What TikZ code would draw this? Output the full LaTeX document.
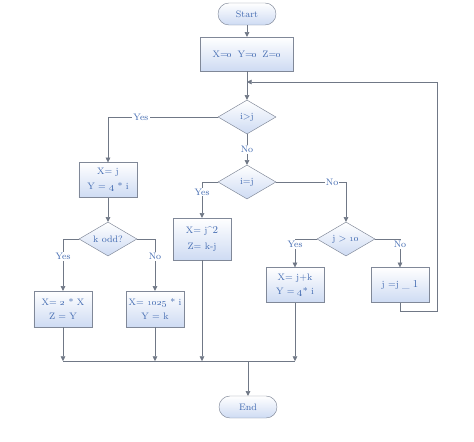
\documentclass[tikz,border=0pt]{standalone}
\usetikzlibrary{shapes.geometric,arrows.meta}
\definecolor{boxblue}{RGB}{206,219,243}
\definecolor{rimgray}{RGB}{128,136,152}
\definecolor{linegray}{RGB}{112,120,134}
\definecolor{txtblue}{RGB}{68,108,178}
\newcommand{\os}[1]{\oldstylenums{#1}}
\begin{document}
\begin{tikzpicture}[x=0.03cm, y=-0.03cm]
\tikzstyle{every node}=[font=\footnotesize, text=txtblue];
\tikzstyle{proc}=[draw=rimgray, top color=white, bottom color=boxblue, minimum width=1.74cm, minimum height=1.05cm, align=center, inner sep=1pt];
\tikzstyle{cond}=[draw=rimgray, diamond, aspect=1.7, top color=white, bottom color=boxblue, minimum width=1.74cm, minimum height=1.02cm, inner sep=0pt];
\tikzstyle{term}=[draw=rimgray, rounded corners=0.33cm, top color=white, bottom color=boxblue, minimum width=1.74cm, minimum height=0.66cm];
\tikzstyle{lbl}=[fill=white, inner sep=1pt];
\tikzstyle{arr}=[draw=linegray, -{Triangle[length=4pt,width=4pt]}];
\tikzstyle{wire}=[draw=linegray];
\useasboundingbox (0,0) rectangle (474,441);
% nodes
\node [term] (start) at (247,14) {Start};
\node [proc, minimum width=2.79cm, minimum height=1.02cm] (init) at (247,54) {X=\os{0}\enspace Y=\os{0}\enspace Z=\os{0}};
\node [cond] (d1) at (247,117) {i>j};
\node [proc] (b1) at (108,180) {X= j\\[3pt] Y = \os{4} * i};
\node [cond] (d3) at (108,239) {k odd?};
\node [proc, minimum height=1.08cm] (b2) at (63,309) {X= \os{2} * X\\[3pt] Z = Y};
\node [proc, minimum height=1.08cm] (b3) at (155,309) {X= \os{1025} * i\\[3pt] Y = k};
\node [cond] (d2) at (247,182) {i=j};
\node [proc, minimum height=1.26cm] (b4) at (202,239) {X= j\textasciicircum{\small 2}\\[4pt] Z= k-j};
\node [cond] (d4) at (346,239) {j > \os{10}};
\node [proc] (b5) at (295,285) {X= j+k\\[3pt] Y = \os{4}* i};
\node [proc] (b6) at (400,285) {j =j \_ {\small 1}};
\node [term] (finish) at (248,407) {End};
\coordinate (loopin) at (247,82);
\coordinate (lp1) at (437,311);
\coordinate (m1) at (63,361);
\coordinate (m2) at (155,361);
\coordinate (m3) at (202,361);
\coordinate (m4) at (295,361);
\coordinate (mc) at (248,361);
% connectors
\draw [arr] (start) -- (init);
\draw [arr] (init) -- (d1);
\draw [arr] (b6.south) |- (lp1) |- (loopin);
\draw [arr] (d1.west) -| node [lbl, pos=0.35] {Yes} (b1.north);
\draw [arr] (d1.south) -- node [lbl] {No} (d2.north);
\draw [arr] (b1) -- (d3);
\draw [arr] (d3.west) -| node [lbl, pos=0.67] {Yes} (b2.north);
\draw [arr] (d3.east) -| node [lbl, pos=0.67] {No} (b3.north);
\draw [arr] (d2.west) -| node [lbl, pos=0.64] {Yes} (b4.north);
\draw [arr] (d2.east) -| node [lbl, pos=0.4] {No} (d4.north);
\draw [arr] (d4.west) -| node [lbl, pos=0.6] {Yes} (b5.north);
\draw [arr] (d4.east) -| node [lbl, pos=0.6] {No} (b6.north);
\draw [arr] (b2) -- (m1);
\draw [arr] (b3) -- (m2);
\draw [arr] (b4) -- (m3);
\draw [arr] (b5) -- (m4);
\draw [wire] (m1) -- (m4);
\draw [arr] (mc) -- (finish);
\end{tikzpicture}
\end{document}
